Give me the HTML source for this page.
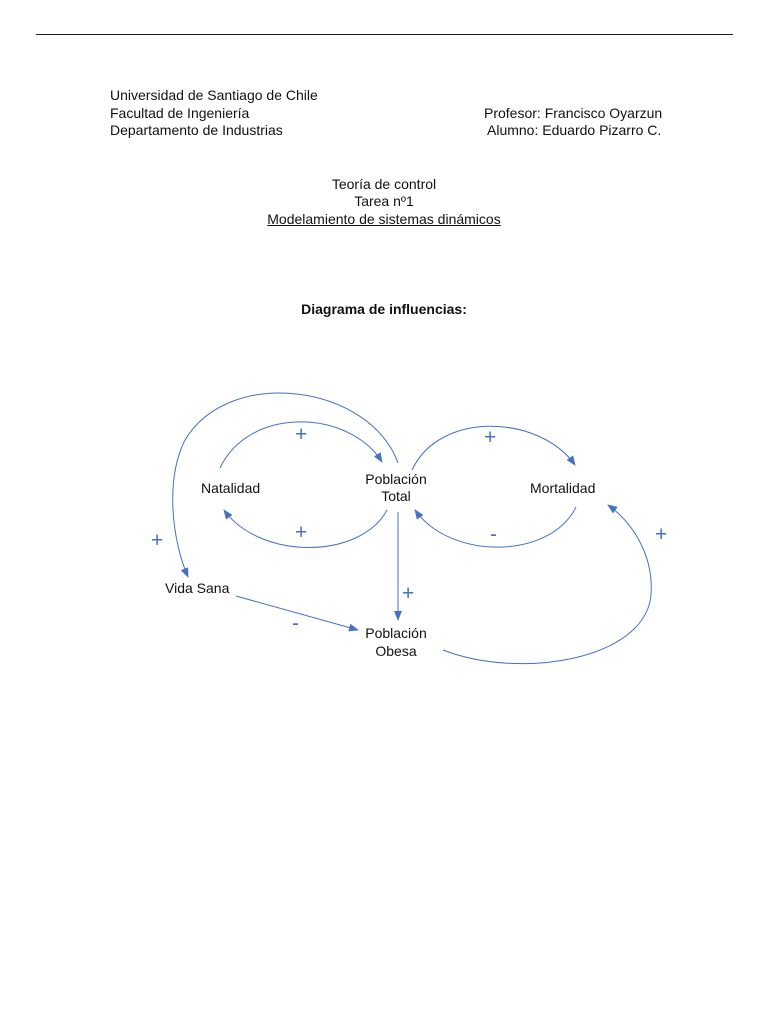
<!DOCTYPE html>
<html><head><meta charset="utf-8"><style>
body{margin:0;background:#fff;width:768px;height:1024px;position:relative;font-family:"Liberation Sans",sans-serif;color:#111;font-size:14px}
.t{position:absolute;white-space:nowrap;line-height:17px}
.c{text-align:center}
</style></head><body>
<div style="position:absolute;left:36px;top:34px;width:697px;height:1px;background:#222"></div>
<div class="t" style="left:110px;top:87px">Universidad de Santiago de Chile</div>
<div class="t" style="left:110px;top:105px">Facultad de Ingeniería</div>
<div class="t" style="left:110px;top:122px">Departamento de Industrias</div>
<div class="t" style="left:484px;top:105px">Profesor: Francisco Oyarzun</div>
<div class="t" style="left:487px;top:122px">Alumno: Eduardo Pizarro C.</div>
<div class="t c" style="left:234px;width:300px;top:176px">Teoría de control</div>
<div class="t c" style="left:234px;width:300px;top:193px">Tarea nº1</div>
<div class="t c" style="left:234px;width:300px;top:211px;"><span style="text-decoration:underline">Modelamiento de sistemas dinámicos</span></div>
<div class="t c" style="left:234px;width:300px;top:301px;font-weight:bold">Diagrama de influencias:</div>
<svg width="768" height="1024" style="position:absolute;left:0;top:0">
<defs><marker id="a" markerWidth="10" markerHeight="8" refX="9" refY="4" orient="auto" markerUnits="userSpaceOnUse"><path d="M0,0 L10,4 L0,8 z" fill="#4472c4"/></marker></defs>
<g fill="none" stroke="#4472c4" stroke-width="1" marker-end="url(#a)">
<path d="M398,463 C370,385 230,365 185,440 C165,480 172,540 188,577"/>
<path d="M220,468 C250,405 350,410 382,462"/>
<path d="M387,510 C360,560 260,560 224,510"/>
<path d="M412,470 C440,410 540,415 575,465"/>
<path d="M576,507 C550,560 450,560 415,510"/>
<path d="M398,512 L398,620"/>
<path d="M236,596 L358,630"/>
<path d="M443,650 C520,680 645,660 651,595 C654,555 632,522 608,505"/>
</g>
<g fill="#4472c4" font-family="Liberation Sans" font-size="21">
<text x="295" y="441">+</text><text x="295" y="539">+</text><text x="484" y="444">+</text>
<text x="490" y="541">-</text><text x="151" y="547">+</text><text x="655" y="541">+</text>
<text x="402" y="600">+</text><text x="292" y="630">-</text>
</g>
</svg>
<div class="t" style="left:201px;top:480px">Natalidad</div>
<div class="t c" style="left:346px;width:100px;top:471px">Población<br>Total</div>
<div class="t" style="left:530px;top:480px">Mortalidad</div>
<div class="t" style="left:165px;top:580px">Vida Sana</div>
<div class="t c" style="left:346px;width:100px;top:624px;line-height:18px">Población<br>Obesa</div>
</body></html>
